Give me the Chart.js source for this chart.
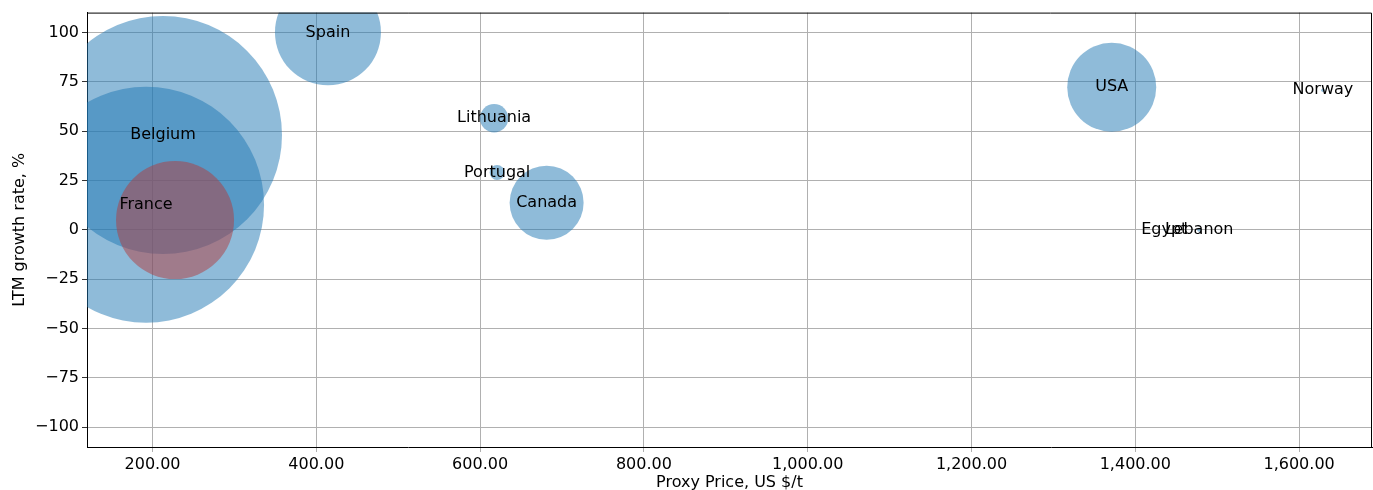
<!DOCTYPE html>
<html>
<head>
<meta charset="utf-8">
<script src="https://cdn.jsdelivr.net/npm/chart.js@4.4.1/dist/chart.umd.min.js"></script>
<style>
  html, body { margin: 0; padding: 0; background: #fff; overflow: hidden; }
  canvas { display: block; }
</style>
</head>
<body>
<canvas id="bubble-chart" width="1373" height="490"></canvas>
<script>
'use strict'
// countries, proxy price (US $/t), LTM growth %, bubble volume (px^2 of radius)
var countries = ['Belgium', 'France', 'Spain', 'Lithuania', 'Portugal', 'Canada', 'USA', 'Norway', 'Egypt', 'Lebanon'];
var prices    = [212.8, 192.1, 414.2, 617.1, 620.8, 681.2, 1371.2, 1629.1, 1435.4, 1478.0];
var growth    = [48.0, 12.7, 100.0, 56.5, 29.0, 13.7, 72.2, 70.7, 0, 0];
var volumes   = [14161, 13924, 2809, 200, 56, 1369, 1980, 3, 1, 4];

// highlighted bubble (no label)
var focusPrice = [227.5];
var focusGrowth = [4.9];
var focusVolume = [3481];

var xTicks = [200, 400, 600, 800, 1000, 1200, 1400, 1600];
var yTicks = [-100, -75, -50, -25, 0, 25, 50, 75, 100];

Chart.defaults.font.family = "'DejaVu Sans', sans-serif";
Chart.defaults.font.size = 16;
Chart.defaults.color = '#000';

function points(xs, ys, vs){
  var out = [];
  for (var i = 0; i < xs.length; i++){
    out.push({x: xs[i], y: ys[i], r: Math.sqrt(vs[i])});
  }
  return out;
}

var labelPlugin = {
  id: 'countryLabels',
  afterDraw: function(chart){
    var ctx = chart.ctx;
    var area = chart.chartArea;
    // top / right spines
    ctx.save();
    ctx.strokeStyle = '#000';
    ctx.lineWidth = 1;
    ctx.beginPath();
    ctx.moveTo(area.left, area.top + 0.5);
    ctx.lineTo(area.right - 0.5, area.top + 0.5);
    ctx.lineTo(area.right - 0.5, area.bottom);
    ctx.stroke();
    ctx.restore();

    var meta = chart.getDatasetMeta(1);
    ctx.save();
    ctx.font = "16px 'DejaVu Sans', sans-serif";
    ctx.fillStyle = '#000';
    ctx.textAlign = 'center';
    ctx.textBaseline = 'middle';
    meta.data.forEach(function(el, i){
      ctx.fillText(countries[i], el.x, el.y);
    });
    ctx.restore();
  }
};

var chart = new Chart(document.getElementById('bubble-chart'), {
  type: 'bubble',
  data: {
    datasets: [{
      label: 'focus',
      data: points(focusPrice, focusGrowth, focusVolume),
      backgroundColor: 'rgba(178,60,62,0.5)',
      borderWidth: 0,
      hoverRadius: 0,
      clip: 0,
      order: 0
    }, {
      label: 'countries',
      data: points(prices, growth, volumes),
      backgroundColor: 'rgba(31,119,180,0.5)',
      borderWidth: 0,
      hoverRadius: 0,
      clip: 0,
      order: 1
    }]
  },
  options: {
    responsive: false,
    devicePixelRatio: 1,
    animation: false,
    events: [],
    layout: { autoPadding: false, padding: { top: 12, right: 1, left: 0, bottom: 0 } },
    plugins: {
      legend: { display: false },
      tooltip: { enabled: false }
    },
    scales: {
      x: {
        type: 'linear',
        min: 120,
        max: 1689,
        z: 1,
        afterFit: function(s){ s.height = 43; },
        afterBuildTicks: function(s){ s.ticks = xTicks.map(function(v){ return {value: v}; }); },
        ticks: {
          padding: 3,
          maxRotation: 0,
          callback: function(v){
            return Number(v).toLocaleString('en-US', {minimumFractionDigits: 2, maximumFractionDigits: 2});
          }
        },
        grid: { color: '#b0b0b0', lineWidth: 1, tickLength: 5, tickColor: '#b0b0b0' },
        border: { display: true, color: '#000', width: 1 },
        title: {
          display: true,
          text: 'Proxy Price, US $/t',
          padding: { top: 0, bottom: -2 }
        }
      },
      y: {
        type: 'linear',
        min: -110,
        max: 110,
        z: 1,
        afterFit: function(s){ s.width = 87; },
        afterBuildTicks: function(s){ s.ticks = yTicks.map(function(v){ return {value: v}; }); },
        ticks: {
          padding: 3,
          callback: function(v){ return String(v).replace('-', '\u2212'); }
        },
        grid: { color: '#b0b0b0', lineWidth: 1, tickLength: 5, tickColor: '#333' },
        border: { display: true, color: '#000', width: 1 },
        title: {
          display: true,
          text: 'LTM growth rate, %',
          padding: { top: 10, bottom: 0 }
        }
      }
    }
  },
  plugins: [labelPlugin]
});
</script>
</body>
</html>
